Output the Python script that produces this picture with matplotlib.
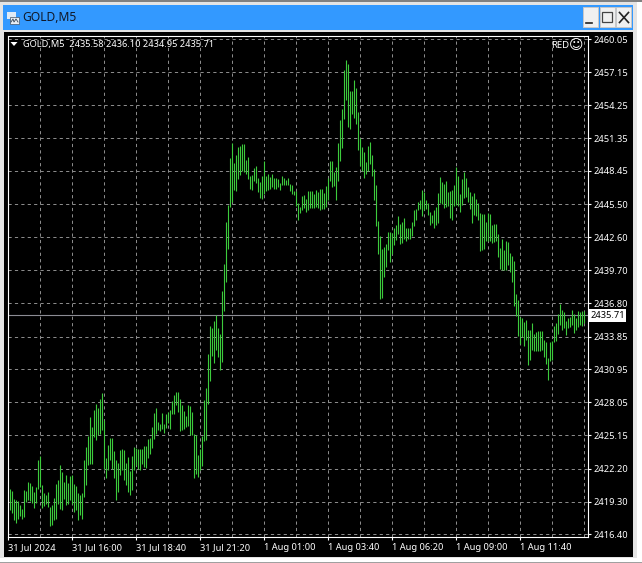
# -*- coding: utf-8 -*-
# GOLD,M5 bar chart in a MetaTrader style window
import matplotlib
matplotlib.use("Agg")
import matplotlib.pyplot as plt
from matplotlib.patches import Rectangle, Polygon

plt.rcParams['font.family'] = ['Noto Sans', 'DejaVu Sans']

# high / low of every 5 minute bar
highs = [
    2421.36, 2420.36, 2420.21, 2419.48, 2419.42, 2419.33, 2418.95, 2418.68, 2420.30, 2420.21,
    2420.98, 2420.89, 2420.71, 2420.15, 2420.56, 2423.00, 2423.30, 2420.80, 2420.01, 2419.86,
    2420.18, 2418.83, 2418.98, 2419.65, 2420.83, 2421.18, 2422.48, 2421.89, 2421.01, 2421.62,
    2420.89, 2421.53, 2421.62, 2420.83, 2420.71, 2420.01, 2419.86, 2420.09, 2422.95, 2424.09,
    2425.12, 2426.74, 2425.86, 2427.41, 2427.88, 2427.53, 2428.38, 2428.91, 2426.53, 2423.18,
    2424.27, 2424.86, 2424.94, 2423.74, 2422.94, 2422.70, 2423.82, 2423.96, 2423.82, 2422.70,
    2423.23, 2421.96, 2423.29, 2424.08, 2423.99, 2423.91, 2423.91, 2423.96, 2424.17, 2424.17,
    2424.79, 2424.93, 2425.88, 2427.08, 2427.52, 2426.29, 2426.11, 2427.08, 2426.17, 2426.99,
    2427.20, 2427.35, 2428.14, 2428.67, 2428.93, 2428.93, 2428.32, 2427.79, 2427.26, 2426.85,
    2427.79, 2427.70, 2427.20, 2425.23, 2425.14, 2423.38, 2423.91, 2425.11, 2428.23, 2429.29,
    2432.34, 2434.75, 2434.64, 2435.20, 2435.78, 2434.61, 2434.11, 2437.86, 2440.24, 2443.94,
    2445.44, 2449.59, 2450.88, 2449.15, 2449.85, 2450.56, 2450.65, 2450.82, 2450.82, 2449.41,
    2449.67, 2448.00, 2448.09, 2448.70, 2448.88, 2447.82, 2447.47, 2448.00, 2449.32, 2448.00,
    2448.18, 2447.91, 2448.18, 2447.82, 2447.82, 2447.73, 2447.38, 2448.00, 2447.82, 2447.65,
    2447.82, 2447.29, 2447.21, 2446.68, 2446.68, 2445.62, 2445.26, 2446.24, 2446.32, 2445.97,
    2446.68, 2446.68, 2446.68, 2446.41, 2446.76, 2446.59, 2446.85, 2446.85, 2446.50, 2447.12,
    2447.82, 2449.32, 2449.32, 2448.35, 2448.79, 2450.91, 2452.98, 2453.92, 2457.39, 2458.27,
    2457.92, 2455.54, 2455.54, 2456.48, 2455.80, 2453.68, 2451.36, 2450.60, 2450.16, 2449.27,
    2450.68, 2451.04, 2449.89, 2448.66, 2447.24, 2444.07, 2442.75, 2441.60, 2441.78, 2442.04,
    2443.10, 2443.10, 2443.01, 2443.45, 2443.72, 2444.51, 2443.80, 2443.98, 2444.33, 2443.45,
    2443.45, 2443.45, 2443.98, 2445.04, 2445.09, 2445.71, 2445.88, 2446.76, 2446.59, 2445.88,
    2445.62, 2444.82, 2444.56, 2445.00, 2445.26, 2446.50, 2447.91, 2447.47, 2447.29, 2447.56,
    2446.59, 2446.68, 2446.76, 2447.21, 2448.79, 2448.00, 2446.41, 2447.73, 2448.35, 2447.82,
    2447.03, 2446.59, 2446.24, 2446.50, 2445.97, 2445.62, 2444.74, 2444.65, 2444.65, 2443.94,
    2444.74, 2444.65, 2443.68, 2443.77, 2443.77, 2442.88, 2441.65, 2442.44, 2441.47, 2442.27,
    2442.18, 2441.21, 2440.94, 2440.50, 2437.59, 2437.06, 2435.56, 2435.47, 2435.12, 2435.29,
    2434.41, 2434.41, 2435.00, 2434.06, 2434.26, 2434.32, 2434.32, 2434.32, 2433.53, 2433.35,
    2431.94, 2433.35, 2433.44, 2434.76, 2435.03, 2435.82, 2436.70, 2436.17, 2436.00, 2435.20,
    2435.47, 2435.56, 2436.17, 2435.82, 2435.47, 2436.08, 2436.00, 2436.08, 2436.08,
]
lows = [
    2420.06, 2418.54, 2418.30, 2417.71, 2417.42, 2417.80, 2418.01, 2417.80, 2417.95, 2419.27,
    2419.42, 2419.36, 2419.18, 2418.74, 2419.18, 2420.36, 2420.59, 2418.74, 2418.89, 2419.06,
    2418.83, 2417.15, 2417.21, 2417.65, 2417.74, 2419.06, 2418.68, 2418.59, 2419.48, 2418.98,
    2419.06, 2419.42, 2419.12, 2418.36, 2418.59, 2417.65, 2418.09, 2417.77, 2419.71, 2420.74,
    2422.50, 2422.65, 2422.59, 2425.00, 2424.71, 2425.15, 2425.24, 2425.59, 2422.21, 2421.39,
    2422.12, 2423.00, 2422.21, 2421.39, 2419.41, 2420.14, 2421.61, 2422.05, 2421.17, 2420.79,
    2420.14, 2419.85, 2420.29, 2422.05, 2422.49, 2422.20, 2422.11, 2422.64, 2422.35, 2422.26,
    2423.17, 2423.52, 2424.05, 2424.82, 2425.23, 2425.58, 2425.52, 2425.73, 2425.35, 2425.82,
    2426.23, 2425.73, 2426.99, 2426.99, 2427.79, 2427.20, 2425.52, 2425.58, 2425.73, 2425.88,
    2425.93, 2425.14, 2425.14, 2421.38, 2421.70, 2421.46, 2422.05, 2422.41, 2424.64, 2424.70,
    2427.93, 2429.90, 2432.11, 2431.52, 2432.64, 2432.05, 2430.93, 2431.61, 2436.09, 2438.65,
    2441.56, 2445.24, 2445.71, 2446.76, 2446.68, 2447.73, 2448.09, 2448.44, 2448.35, 2448.18,
    2447.73, 2446.85, 2446.76, 2447.56, 2447.38, 2446.59, 2446.06, 2445.97, 2446.41, 2446.68,
    2446.76, 2446.85, 2447.03, 2446.85, 2446.85, 2447.03, 2446.76, 2447.21, 2447.21, 2447.21,
    2447.21, 2446.68, 2446.41, 2446.32, 2445.35, 2444.12, 2444.74, 2445.00, 2445.18, 2444.82,
    2445.00, 2445.18, 2445.18, 2445.18, 2445.26, 2445.18, 2445.00, 2445.09, 2445.09, 2445.26,
    2445.88, 2447.56, 2447.03, 2447.12, 2445.88, 2447.56, 2449.30, 2450.45, 2453.07, 2454.74,
    2452.33, 2452.15, 2453.51, 2453.12, 2452.62, 2450.33, 2448.92, 2448.45, 2447.86, 2448.21,
    2448.42, 2449.10, 2447.98, 2445.92, 2443.63, 2441.16, 2437.19, 2437.28, 2439.13, 2440.01,
    2441.51, 2440.45, 2441.16, 2441.95, 2442.39, 2442.92, 2442.04, 2442.13, 2442.48, 2442.31,
    2442.48, 2442.48, 2442.75, 2443.63, 2444.12, 2445.00, 2445.09, 2444.47, 2445.00, 2445.09,
    2444.56, 2443.68, 2443.82, 2443.41, 2443.68, 2443.85, 2445.59, 2445.53, 2445.18, 2445.26,
    2445.35, 2444.29, 2444.12, 2445.35, 2445.44, 2445.35, 2444.82, 2445.44, 2446.06, 2446.15,
    2445.71, 2445.09, 2443.85, 2444.56, 2444.47, 2444.12, 2441.38, 2441.47, 2441.56, 2442.27,
    2442.27, 2442.27, 2442.09, 2442.18, 2442.27, 2440.85, 2439.80, 2439.71, 2439.71, 2439.71,
    2440.15, 2439.53, 2438.65, 2436.53, 2435.65, 2433.86, 2433.18, 2433.80, 2433.00, 2433.53,
    2431.32, 2431.76, 2432.64, 2432.56, 2432.56, 2432.56, 2432.56, 2432.64, 2432.06, 2431.41,
    2430.00, 2431.67, 2431.76, 2433.35, 2433.44, 2434.06, 2434.85, 2434.41, 2434.59, 2433.97,
    2434.59, 2434.67, 2434.85, 2434.14, 2434.41, 2434.67, 2434.85, 2434.76, 2435.03,
]
price_ticks = [2460.05, 2457.15, 2454.25, 2451.35, 2448.45, 2445.50, 2442.60, 2439.70,
               2436.80, 2433.85, 2430.95, 2428.05, 2425.15, 2422.20, 2419.30, 2416.40]
date_ticks = [0, 32, 64, 96, 128, 160, 192, 224, 256]
date_labels = ['31 Jul 2024', '31 Jul 16:00', '31 Jul 18:40', '31 Jul 21:20', '1 Aug 01:00',
               '1 Aug 03:40', '1 Aug 06:20', '1 Aug 09:00', '1 Aug 11:40']
grid_bars = list(range(16, 289, 16))
last_price = 2435.71
header = 'GOLD,M5  2435.58 2436.10 2434.95 2435.71'

W, H = 642, 563
GREEN = '#3ccb3c'
GRID = '#8a8a8a'
fig = plt.figure(figsize=(W / 100, H / 100), dpi=100, facecolor='white')

# window chrome, in pixel coordinates
chrome = fig.add_axes([0, 0, 1, 1], zorder=0)
chrome.set_xlim(0, W)
chrome.set_ylim(H, 0)
chrome.axis('off')
chrome.add_patch(Rectangle((0, 0), W, 1.5, color='#808080', lw=0))
chrome.add_patch(Rectangle((0, 1.5), 637, H - 1.5, color='#e4e4e4', lw=0))
chrome.add_patch(Rectangle((637, 1.5), 5, H, color='white', lw=0))
chrome.add_patch(Rectangle((3, 5), 630, 25, color='#3399ff', lw=0))
chrome.add_patch(Rectangle((4, 32), 629, 525, color='black', lw=0))
chrome.add_patch(Rectangle((0, 558), 637, 4, color='white', lw=0))
chrome.add_patch(Rectangle((0, 562), 642, 1, color='#a0a0a0', lw=0))
# icon
chrome.add_patch(Rectangle((6.5, 12), 9, 7, color='#dfeaf5', lw=0))
chrome.add_patch(Rectangle((10, 17), 9, 7, color='#e8eef5', ec='#445566', lw=0.5))
chrome.plot([11, 13, 14, 16, 18], [22, 19, 22, 19, 22], color='#334455', lw=0.6)
# buttons
for bx in [583, 599.5, 616]:
    chrome.add_patch(Rectangle((bx, 7), 15, 20, fc='#f0f0f0', ec='#c8c8c8', lw=0.7))
chrome.plot([586, 592], [22.5, 22.5], color='#222222', lw=1.2)
chrome.add_patch(Rectangle((601.5, 12), 10, 10, fill=False, ec='#444444', lw=0.9))
chrome.plot([619.5, 628.5], [12.5, 22.5], color='#222222', lw=1.2)
chrome.plot([628.5, 619.5], [12.5, 22.5], color='#222222', lw=1.2)
chrome.text(22, 17.5, 'GOLD,M5', fontsize=8.7, color='#101828', va='center', ha='left')

# chart
left, right, top, bottom = 7.5, 587.5, 35.5, 536.5
ax = fig.add_axes([left / W, 1 - bottom / H, (right - left) / W, (bottom - top) / H],
                  facecolor='black', zorder=1)
px = (2460.05 - 2416.40) / 495
ax.set_ylim(2416.40 - (bottom - 534.4) * px, 2460.05 + (39.4 - top) * px)
ax.set_xlim((left - 8.33) / 2, (right - 8.33) / 2)

for b in grid_bars:
    ax.axvline(b, color=GRID, lw=0.72, dashes=(3.2, 3.2), zorder=1)
for p in price_ticks:
    ax.axhline(p, color=GRID, lw=0.72, dashes=(3.2, 3.2), zorder=1)
ax.axhline(last_price, color='#8c8c94', lw=0.8, zorder=1)
ax.vlines(range(len(highs)), lows, highs, color=GREEN, lw=0.8, zorder=2)

for s in ax.spines.values():
    s.set_color('white')
    s.set_linewidth(0.8)
ax.yaxis.tick_right()
ax.set_yticks(price_ticks)
ax.set_yticklabels(['%.2f' % p for p in price_ticks])
ax.set_xticks(date_ticks)
ax.set_xticklabels(date_labels)
ax.tick_params(axis='y', colors='white', labelsize=6.7, length=2, width=0.8, pad=2.5)
ax.tick_params(axis='x', colors='white', labelsize=6.7, length=2.5, width=0.8, pad=2)
for t in ax.get_xticklabels():
    t.set_ha('left')
    t.set_x(t.get_position()[0])

ax.text(1.0045, last_price, '%.2f' % last_price, transform=ax.get_yaxis_transform(),
        fontsize=6.7, color='black', va='center', ha='left',
        bbox=dict(fc='white', ec='none', pad=1.2), zorder=5, clip_on=False)

# header texts, in pixel coordinates
over = fig.add_axes([0, 0, 1, 1], zorder=2)
over.set_xlim(0, W)
over.set_ylim(H, 0)
over.axis('off')
over.add_patch(Polygon([(10.5, 42), (17.5, 42), (14, 46)], color='white', lw=0))
over.text(23, 44, header, fontsize=6.65, color='white', va='center', ha='left')
over.text(551, 45, 'RED', fontsize=6.9, color='white', va='center', ha='left')
over.text(576, 45, '\u263a', fontsize=10, color='white', va='center', ha='center',
          family='DejaVu Sans')

fig.savefig('out.png', dpi=100)
